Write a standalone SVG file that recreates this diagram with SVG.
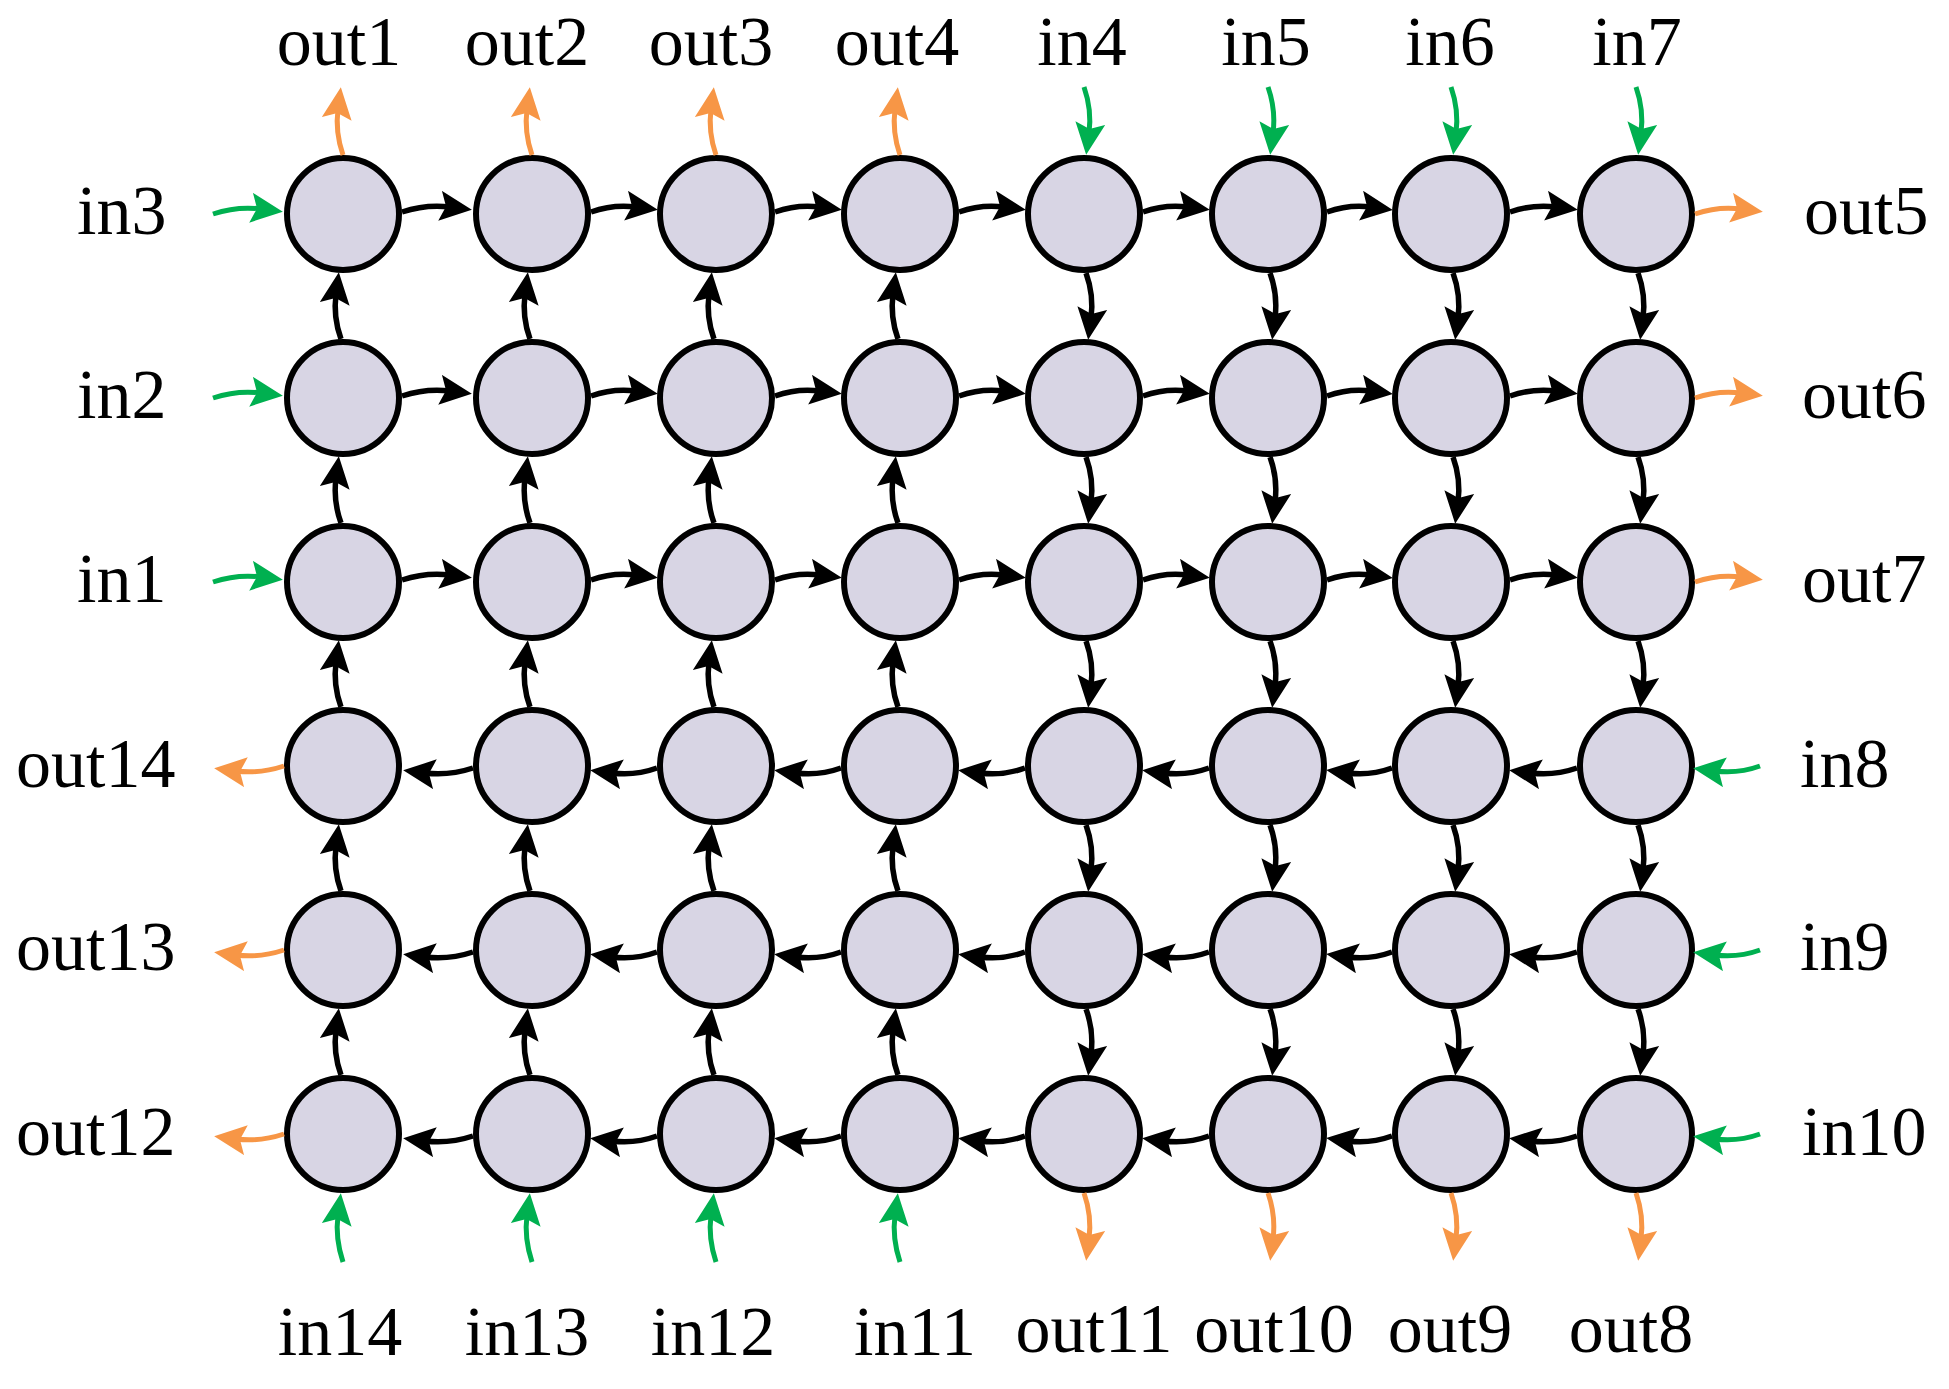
<svg xmlns="http://www.w3.org/2000/svg" width="1949" height="1389" viewBox="0 0 1949 1389">
<style>
.node{fill:#D8D5E4;stroke:#000;stroke-width:6}
.k{fill:none;stroke:#000;stroke-width:5.5;marker-end:url(#ak)}
.g{fill:none;stroke:#00B050;stroke-width:5;marker-end:url(#ag)}
.o{fill:none;stroke:#F79646;stroke-width:5;marker-end:url(#ao)}
text{font-family:"Liberation Serif","Times New Roman",serif;font-size:70px;fill:#000}
.m{text-anchor:middle}
</style>
<defs>
<marker id="ak" markerUnits="userSpaceOnUse" markerWidth="32" markerHeight="30" viewBox="0 0 32 30" refX="10" refY="15" orient="auto"><path d="M0,0 L32,15 L0,30 L6,15 z" fill="#000"/></marker>
<marker id="ag" markerUnits="userSpaceOnUse" markerWidth="32" markerHeight="30" viewBox="0 0 32 30" refX="10" refY="15" orient="auto"><path d="M0,0 L32,15 L0,30 L6,15 z" fill="#00B050"/></marker>
<marker id="ao" markerUnits="userSpaceOnUse" markerWidth="32" markerHeight="30" viewBox="0 0 32 30" refX="10" refY="15" orient="auto"><path d="M0,0 L32,15 L0,30 L6,15 z" fill="#F79646"/></marker>
</defs>
<rect width="1949" height="1389" fill="#fff"/>
<g id="nodes">
<g id="n-1-1"><circle class="node" cx="343" cy="214" r="56"/></g>
<g id="n-1-2"><circle class="node" cx="532" cy="214" r="56"/></g>
<g id="n-1-3"><circle class="node" cx="716" cy="214" r="56"/></g>
<g id="n-1-4"><circle class="node" cx="900" cy="214" r="56"/></g>
<g id="n-1-5"><circle class="node" cx="1084" cy="214" r="56"/></g>
<g id="n-1-6"><circle class="node" cx="1268" cy="214" r="56"/></g>
<g id="n-1-7"><circle class="node" cx="1451" cy="214" r="56"/></g>
<g id="n-1-8"><circle class="node" cx="1636" cy="214" r="56"/></g>
<g id="n-2-1"><circle class="node" cx="343" cy="398" r="56"/></g>
<g id="n-2-2"><circle class="node" cx="532" cy="398" r="56"/></g>
<g id="n-2-3"><circle class="node" cx="716" cy="398" r="56"/></g>
<g id="n-2-4"><circle class="node" cx="900" cy="398" r="56"/></g>
<g id="n-2-5"><circle class="node" cx="1084" cy="398" r="56"/></g>
<g id="n-2-6"><circle class="node" cx="1268" cy="398" r="56"/></g>
<g id="n-2-7"><circle class="node" cx="1451" cy="398" r="56"/></g>
<g id="n-2-8"><circle class="node" cx="1636" cy="398" r="56"/></g>
<g id="n-3-1"><circle class="node" cx="343" cy="582" r="56"/></g>
<g id="n-3-2"><circle class="node" cx="532" cy="582" r="56"/></g>
<g id="n-3-3"><circle class="node" cx="716" cy="582" r="56"/></g>
<g id="n-3-4"><circle class="node" cx="900" cy="582" r="56"/></g>
<g id="n-3-5"><circle class="node" cx="1084" cy="582" r="56"/></g>
<g id="n-3-6"><circle class="node" cx="1268" cy="582" r="56"/></g>
<g id="n-3-7"><circle class="node" cx="1451" cy="582" r="56"/></g>
<g id="n-3-8"><circle class="node" cx="1636" cy="582" r="56"/></g>
<g id="n-4-1"><circle class="node" cx="343" cy="766" r="56"/></g>
<g id="n-4-2"><circle class="node" cx="532" cy="766" r="56"/></g>
<g id="n-4-3"><circle class="node" cx="716" cy="766" r="56"/></g>
<g id="n-4-4"><circle class="node" cx="900" cy="766" r="56"/></g>
<g id="n-4-5"><circle class="node" cx="1084" cy="766" r="56"/></g>
<g id="n-4-6"><circle class="node" cx="1268" cy="766" r="56"/></g>
<g id="n-4-7"><circle class="node" cx="1451" cy="766" r="56"/></g>
<g id="n-4-8"><circle class="node" cx="1636" cy="766" r="56"/></g>
<g id="n-5-1"><circle class="node" cx="343" cy="950" r="56"/></g>
<g id="n-5-2"><circle class="node" cx="532" cy="950" r="56"/></g>
<g id="n-5-3"><circle class="node" cx="716" cy="950" r="56"/></g>
<g id="n-5-4"><circle class="node" cx="900" cy="950" r="56"/></g>
<g id="n-5-5"><circle class="node" cx="1084" cy="950" r="56"/></g>
<g id="n-5-6"><circle class="node" cx="1268" cy="950" r="56"/></g>
<g id="n-5-7"><circle class="node" cx="1451" cy="950" r="56"/></g>
<g id="n-5-8"><circle class="node" cx="1636" cy="950" r="56"/></g>
<g id="n-6-1"><circle class="node" cx="343" cy="1134" r="56"/></g>
<g id="n-6-2"><circle class="node" cx="532" cy="1134" r="56"/></g>
<g id="n-6-3"><circle class="node" cx="716" cy="1134" r="56"/></g>
<g id="n-6-4"><circle class="node" cx="900" cy="1134" r="56"/></g>
<g id="n-6-5"><circle class="node" cx="1084" cy="1134" r="56"/></g>
<g id="n-6-6"><circle class="node" cx="1268" cy="1134" r="56"/></g>
<g id="n-6-7"><circle class="node" cx="1451" cy="1134" r="56"/></g>
<g id="n-6-8"><circle class="node" cx="1636" cy="1134" r="56"/></g>
</g>
<g id="connectors">
<!-- rows 1-3 rightward -->
<path class="k" d="M402,212 Q426,204 450,207"/>
<path class="k" d="M591,212 Q613,204 636,207"/>
<path class="k" d="M775,212 Q797,204 820,207"/>
<path class="k" d="M959,212 Q981,204 1004,207"/>
<path class="k" d="M1143,212 Q1165,204 1188,207"/>
<path class="k" d="M1327,212 Q1349,204 1371,207"/>
<path class="k" d="M1510,212 Q1533,204 1556,207"/>
<path class="k" d="M402,396 Q426,388 450,391"/>
<path class="k" d="M591,396 Q613,388 636,391"/>
<path class="k" d="M775,396 Q797,388 820,391"/>
<path class="k" d="M959,396 Q981,388 1004,391"/>
<path class="k" d="M1143,396 Q1165,388 1188,391"/>
<path class="k" d="M1327,396 Q1349,388 1371,391"/>
<path class="k" d="M1510,396 Q1533,388 1556,391"/>
<path class="k" d="M402,580 Q426,572 450,575"/>
<path class="k" d="M591,580 Q613,572 636,575"/>
<path class="k" d="M775,580 Q797,572 820,575"/>
<path class="k" d="M959,580 Q981,572 1004,575"/>
<path class="k" d="M1143,580 Q1165,572 1188,575"/>
<path class="k" d="M1327,580 Q1349,572 1371,575"/>
<path class="k" d="M1510,580 Q1533,572 1556,575"/>
<!-- rows 4-6 leftward -->
<path class="k" d="M473,768 Q449,776 425,773"/>
<path class="k" d="M657,768 Q635,776 612,773"/>
<path class="k" d="M841,768 Q819,776 796,773"/>
<path class="k" d="M1025,768 Q1003,776 980,773"/>
<path class="k" d="M1209,768 Q1187,776 1164,773"/>
<path class="k" d="M1392,768 Q1370,776 1348,773"/>
<path class="k" d="M1577,768 Q1554,776 1531,773"/>
<path class="k" d="M473,952 Q449,960 425,957"/>
<path class="k" d="M657,952 Q635,960 612,957"/>
<path class="k" d="M841,952 Q819,960 796,957"/>
<path class="k" d="M1025,952 Q1003,960 980,957"/>
<path class="k" d="M1209,952 Q1187,960 1164,957"/>
<path class="k" d="M1392,952 Q1370,960 1348,957"/>
<path class="k" d="M1577,952 Q1554,960 1531,957"/>
<path class="k" d="M473,1136 Q449,1144 425,1141"/>
<path class="k" d="M657,1136 Q635,1144 612,1141"/>
<path class="k" d="M841,1136 Q819,1144 796,1141"/>
<path class="k" d="M1025,1136 Q1003,1144 980,1141"/>
<path class="k" d="M1209,1136 Q1187,1144 1164,1141"/>
<path class="k" d="M1392,1136 Q1370,1144 1348,1141"/>
<path class="k" d="M1577,1136 Q1554,1144 1531,1141"/>
<!-- cols 1-4 upward -->
<path class="k" d="M341,339 Q333,317 336,294"/>
<path class="k" d="M341,523 Q333,501 336,478"/>
<path class="k" d="M341,707 Q333,685 336,662"/>
<path class="k" d="M341,891 Q333,869 336,846"/>
<path class="k" d="M341,1075 Q333,1053 336,1030"/>
<path class="k" d="M530,339 Q522,317 525,294"/>
<path class="k" d="M530,523 Q522,501 525,478"/>
<path class="k" d="M530,707 Q522,685 525,662"/>
<path class="k" d="M530,891 Q522,869 525,846"/>
<path class="k" d="M530,1075 Q522,1053 525,1030"/>
<path class="k" d="M714,339 Q706,317 709,294"/>
<path class="k" d="M714,523 Q706,501 709,478"/>
<path class="k" d="M714,707 Q706,685 709,662"/>
<path class="k" d="M714,891 Q706,869 709,846"/>
<path class="k" d="M714,1075 Q706,1053 709,1030"/>
<path class="k" d="M898,339 Q890,317 893,294"/>
<path class="k" d="M898,523 Q890,501 893,478"/>
<path class="k" d="M898,707 Q890,685 893,662"/>
<path class="k" d="M898,891 Q890,869 893,846"/>
<path class="k" d="M898,1075 Q890,1053 893,1030"/>
<!-- cols 5-8 downward -->
<path class="k" d="M1086,273 Q1094,295 1091,318"/>
<path class="k" d="M1086,457 Q1094,479 1091,502"/>
<path class="k" d="M1086,641 Q1094,663 1091,686"/>
<path class="k" d="M1086,825 Q1094,847 1091,870"/>
<path class="k" d="M1086,1009 Q1094,1031 1091,1054"/>
<path class="k" d="M1270,273 Q1278,295 1275,318"/>
<path class="k" d="M1270,457 Q1278,479 1275,502"/>
<path class="k" d="M1270,641 Q1278,663 1275,686"/>
<path class="k" d="M1270,825 Q1278,847 1275,870"/>
<path class="k" d="M1270,1009 Q1278,1031 1275,1054"/>
<path class="k" d="M1453,273 Q1461,295 1458,318"/>
<path class="k" d="M1453,457 Q1461,479 1458,502"/>
<path class="k" d="M1453,641 Q1461,663 1458,686"/>
<path class="k" d="M1453,825 Q1461,847 1458,870"/>
<path class="k" d="M1453,1009 Q1461,1031 1458,1054"/>
<path class="k" d="M1638,273 Q1646,295 1643,318"/>
<path class="k" d="M1638,457 Q1646,479 1643,502"/>
<path class="k" d="M1638,641 Q1646,663 1643,686"/>
<path class="k" d="M1638,825 Q1646,847 1643,870"/>
<path class="k" d="M1638,1009 Q1646,1031 1643,1054"/>
<!-- external: top -->
<path class="o" d="M343,155 Q335,132 338,109"/>
<path class="o" d="M532,155 Q524,132 527,109"/>
<path class="o" d="M716,155 Q708,132 711,109"/>
<path class="o" d="M900,155 Q892,132 895,109"/>
<path class="g" d="M1084,87 Q1092,110 1089,133"/>
<path class="g" d="M1268,87 Q1276,110 1273,133"/>
<path class="g" d="M1451,87 Q1459,110 1456,133"/>
<path class="g" d="M1636,87 Q1644,110 1641,133"/>
<!-- external: left -->
<path class="g" d="M213,214 Q237,206 261,209"/>
<path class="g" d="M213,398 Q237,390 261,393"/>
<path class="g" d="M213,582 Q237,574 261,577"/>
<path class="o" d="M284,766 Q260,774 236,771"/>
<path class="o" d="M284,950 Q260,958 236,955"/>
<path class="o" d="M284,1134 Q260,1142 236,1139"/>
<!-- external: right -->
<path class="o" d="M1695,214 Q1718,206 1741,209"/>
<path class="o" d="M1695,398 Q1718,390 1741,393"/>
<path class="o" d="M1695,582 Q1718,574 1741,577"/>
<path class="g" d="M1760,766 Q1738,774 1715,771"/>
<path class="g" d="M1760,950 Q1738,958 1715,955"/>
<path class="g" d="M1760,1134 Q1738,1142 1715,1139"/>
<!-- external: bottom -->
<path class="g" d="M343,1262 Q335,1238 338,1215"/>
<path class="g" d="M532,1262 Q524,1238 527,1215"/>
<path class="g" d="M716,1262 Q708,1238 711,1215"/>
<path class="g" d="M900,1262 Q892,1238 895,1215"/>
<path class="o" d="M1084,1193 Q1092,1216 1089,1239"/>
<path class="o" d="M1268,1193 Q1276,1216 1273,1239"/>
<path class="o" d="M1451,1193 Q1459,1216 1456,1239"/>
<path class="o" d="M1636,1193 Q1644,1216 1641,1239"/>
</g>
<g id="labels">
<text class="m" x="339" y="65">out1</text>
<text class="m" x="527" y="65">out2</text>
<text class="m" x="711" y="65">out3</text>
<text class="m" x="897" y="65">out4</text>
<text class="m" x="1082" y="65">in4</text>
<text class="m" x="1266" y="65">in5</text>
<text class="m" x="1450" y="65">in6</text>
<text class="m" x="1637" y="65">in7</text>
<text x="77" y="234">in3</text>
<text x="77" y="418">in2</text>
<text x="77" y="602">in1</text>
<text x="16" y="787">out14</text>
<text x="16" y="970">out13</text>
<text x="16" y="1155">out12</text>
<text x="1804" y="234">out5</text>
<text x="1802" y="418">out6</text>
<text x="1802" y="602">out7</text>
<text x="1800" y="787">in8</text>
<text x="1800" y="970">in9</text>
<text x="1802" y="1155">in10</text>
<text class="m" x="340" y="1355">in14</text>
<text class="m" x="527" y="1355">in13</text>
<text class="m" x="713" y="1355">in12</text>
<text class="m" x="915" y="1355">in11</text>
<text class="m" x="1094" y="1352">out11</text>
<text class="m" x="1274" y="1352">out10</text>
<text class="m" x="1450" y="1352">out9</text>
<text class="m" x="1631" y="1352">out8</text>
</g>
</svg>
